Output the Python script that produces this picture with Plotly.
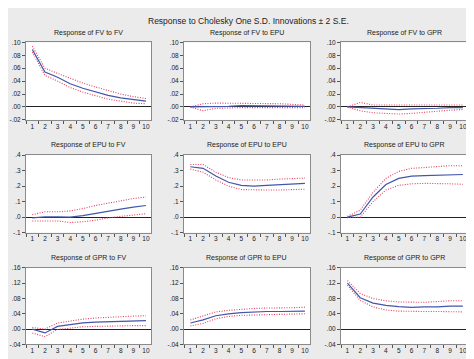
import plotly.graph_objects as go

periods = list(range(1, 11))

# Response of FV
fv_fv = [0.089, 0.054, 0.046, 0.036, 0.029, 0.023, 0.018, 0.014, 0.011, 0.009]
fv_fv_up = [0.094, 0.060, 0.052, 0.044, 0.037, 0.031, 0.025, 0.020, 0.016, 0.013]
fv_fv_lo = [0.085, 0.049, 0.040, 0.030, 0.023, 0.017, 0.012, 0.009, 0.006, 0.005]

fv_epu = [0.000, 0.000, 0.001, 0.001, 0.002, 0.002, 0.002, 0.001, 0.001, 0.001]
fv_epu_up = [0.000, 0.005, 0.006, 0.006, 0.006, 0.006, 0.005, 0.005, 0.004, 0.003]
fv_epu_lo = [0.000, -0.006, -0.002, -0.001, -0.001, -0.001, -0.001, -0.001, -0.001, -0.001]

fv_gpr = [0.000, -0.001, -0.002, -0.004, -0.004, -0.003, -0.003, -0.002, -0.001, -0.001]
fv_gpr_up = [0.000, 0.007, 0.003, 0.003, 0.003, 0.003, 0.003, 0.003, 0.003, 0.003]
fv_gpr_lo = [0.000, -0.006, -0.009, -0.010, -0.011, -0.010, -0.008, -0.006, -0.005, -0.004]

# Response of EPU
epu_fv = [-0.005, 0.002, 0.002, 0.000, 0.010, 0.025, 0.040, 0.052, 0.065, 0.075]
epu_fv_up = [0.015, 0.035, 0.035, 0.040, 0.055, 0.075, 0.090, 0.105, 0.120, 0.130]
epu_fv_lo = [-0.025, -0.025, -0.025, -0.035, -0.030, -0.020, -0.005, 0.005, 0.015, 0.022]

epu_epu = [0.325, 0.315, 0.265, 0.225, 0.205, 0.200, 0.205, 0.210, 0.213, 0.218]
epu_epu_up = [0.340, 0.340, 0.290, 0.255, 0.240, 0.238, 0.240, 0.245, 0.248, 0.252]
epu_epu_lo = [0.310, 0.290, 0.240, 0.200, 0.178, 0.175, 0.175, 0.175, 0.178, 0.180]

epu_gpr = [0.000, 0.020, 0.130, 0.210, 0.250, 0.265, 0.268, 0.270, 0.272, 0.275]
epu_gpr_up = [0.005, 0.045, 0.160, 0.250, 0.295, 0.315, 0.320, 0.328, 0.332, 0.332]
epu_gpr_lo = [-0.003, 0.000, 0.100, 0.175, 0.205, 0.215, 0.218, 0.218, 0.215, 0.212]

# Response of GPR
gpr_fv = [0.000, -0.010, 0.007, 0.012, 0.016, 0.018, 0.019, 0.020, 0.021, 0.022]
gpr_fv_up = [0.004, 0.000, 0.016, 0.022, 0.026, 0.029, 0.031, 0.033, 0.034, 0.035]
gpr_fv_lo = [-0.010, -0.020, -0.001, 0.003, 0.006, 0.007, 0.008, 0.008, 0.009, 0.009]

gpr_epu = [0.016, 0.024, 0.035, 0.040, 0.043, 0.045, 0.046, 0.046, 0.047, 0.047]
gpr_epu_up = [0.024, 0.034, 0.045, 0.049, 0.052, 0.054, 0.055, 0.055, 0.056, 0.057]
gpr_epu_lo = [0.008, 0.015, 0.027, 0.033, 0.036, 0.037, 0.038, 0.039, 0.039, 0.040]

gpr_gpr = [0.120, 0.082, 0.068, 0.062, 0.059, 0.057, 0.058, 0.058, 0.060, 0.060]
gpr_gpr_up = [0.127, 0.093, 0.080, 0.074, 0.071, 0.070, 0.070, 0.072, 0.074, 0.074]
gpr_gpr_lo = [0.115, 0.075, 0.058, 0.050, 0.047, 0.046, 0.046, 0.046, 0.046, 0.045]

titles = [
    ["Response of FV to FV", "Response of FV to EPU", "Response of FV to GPR"],
    ["Response of EPU to FV", "Response of EPU to EPU", "Response of EPU to GPR"],
    ["Response of GPR to FV", "Response of GPR to EPU", "Response of GPR to GPR"],
]
series = [
    [(fv_fv, fv_fv_up, fv_fv_lo), (fv_epu, fv_epu_up, fv_epu_lo), (fv_gpr, fv_gpr_up, fv_gpr_lo)],
    [(epu_fv, epu_fv_up, epu_fv_lo), (epu_epu, epu_epu_up, epu_epu_lo), (epu_gpr, epu_gpr_up, epu_gpr_lo)],
    [(gpr_fv, gpr_fv_up, gpr_fv_lo), (gpr_epu, gpr_epu_up, gpr_epu_lo), (gpr_gpr, gpr_gpr_up, gpr_gpr_lo)],
]
row_yticks = [
    ([-0.02, 0.00, 0.02, 0.04, 0.06, 0.08, 0.10], ["-.02", ".00", ".02", ".04", ".06", ".08", ".10"]),
    ([-0.1, 0.0, 0.1, 0.2, 0.3, 0.4], ["-.1", ".0", ".1", ".2", ".3", ".4"]),
    ([-0.04, 0.00, 0.04, 0.08, 0.12, 0.16], ["-.04", ".00", ".04", ".08", ".12", ".16"]),
]
xticks = periods
xticklabels = [str(p) for p in periods]

W, H = 474, 359
col_px = [(18, 143), (176, 302), (333, 460)]
row_px = [(31, 110), (146, 225), (261, 339)]

BLUE = "#4256aa"
RED = "#e63c5c"
FONT = "Liberation Sans, Arial, sans-serif"

fig = go.Figure()
annotations = []
k = 0
for r in range(3):
    for c in range(3):
        k += 1
        xa = "x" if k == 1 else f"x{k}"
        ya = "y" if k == 1 else f"y{k}"
        resp, up, lo = series[r][c]
        for vals, color, dash, width in [(up, RED, "1px,1.5px", 1.1), (lo, RED, "1px,1.5px", 1.1),
                                         (resp, BLUE, "solid", 1.2)]:
            fig.add_trace(go.Scatter(x=periods, y=vals, mode="lines", xaxis=xa, yaxis=ya,
                                     line=dict(color=color, dash=dash, width=width),
                                     showlegend=False, hoverinfo="skip"))
        x0, x1 = col_px[c]
        y0, y1 = row_px[r]
        tv, tt = row_yticks[r]
        fig.update_layout(**{
            ("xaxis" if k == 1 else f"xaxis{k}"): dict(
                domain=[x0 / W, x1 / W], anchor=ya, range=[0.5, 10.4],
                tickvals=xticks, ticktext=xticklabels, ticks="", showgrid=False,
                zeroline=False, showline=True, mirror=True, linecolor="#8a8a8a", linewidth=1,
                tickfont=dict(size=6.5, color="#222", family=FONT),
                minor=dict(tickvals=[p + 0.5 for p in periods[:-1]] + [0.5], ticks="outside",
                           ticklen=3, tickcolor="#555"),
            ),
            ("yaxis" if k == 1 else f"yaxis{k}"): dict(
                domain=[1 - y1 / H, 1 - y0 / H], anchor=xa, range=[tv[0], tv[-1]],
                tickvals=tv, ticktext=tt, ticks="outside", ticklen=3, tickcolor="#555",
                showgrid=False, zeroline=True, zerolinecolor="#222", zerolinewidth=1,
                showline=True, mirror=True, linecolor="#8a8a8a", linewidth=1,
                tickfont=dict(size=6.5, color="#222", family=FONT),
            ),
        })
        annotations.append(dict(text=titles[r][c], x=(x0 + x1) / 2 / W, y=1 - (y0 - 10) / H,
                                xref="paper", yref="paper", showarrow=False,
                                font=dict(size=7, color="#222", family=FONT),
                                xanchor="center", yanchor="middle"))

annotations.append(dict(text="Response to Cholesky One S.D. Innovations \u00b1 2 S.E.",
                        x=240 / W, y=1 - 9 / H, xref="paper", yref="paper", showarrow=False,
                        font=dict(size=8.5, color="#222", family=FONT),
                        xanchor="center", yanchor="middle"))

fig.update_layout(width=W, height=H, margin=dict(l=0, r=0, t=0, b=0),
                  paper_bgcolor="#ebebeb", plot_bgcolor="#ffffff",
                  annotations=annotations, showlegend=False)

fig.write_html("out.html")
